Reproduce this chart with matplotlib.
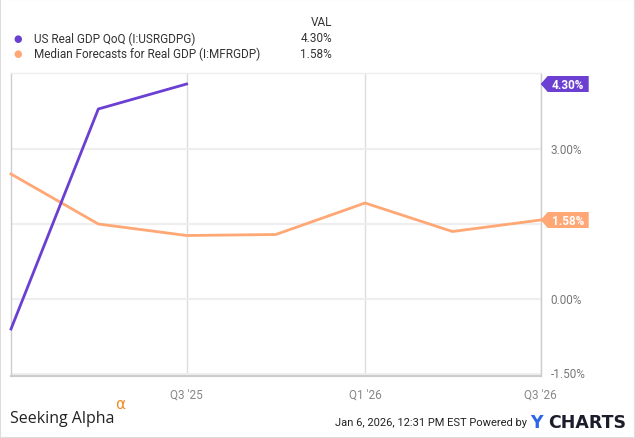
import matplotlib.pyplot as plt
import matplotlib.dates as mdates
import matplotlib.transforms as mtransforms
from matplotlib.patches import Polygon, Rectangle
import numpy as np
import pandas as pd

plt.rcParams['font.family'] = ['Roboto', 'DejaVu Sans']

# data (quarterly, %)
gdp_dates = pd.to_datetime(["2025-01-01", "2025-04-01", "2025-07-01"])
gdp_vals = [-0.6, 3.8, 4.3]
fc_dates = pd.to_datetime(["2025-01-01", "2025-04-01", "2025-07-01", "2025-10-01",
                           "2026-01-01", "2026-04-01", "2026-07-01"])
fc_vals = [2.5, 1.5, 1.27, 1.29, 1.92, 1.35, 1.58]

series_names = ["US Real GDP QoQ (I:USRGDPG)", "Median Forecasts for Real GDP (I:MFRGDP)"]
last_vals = [4.30, 1.58]
colors = ["#6a3fd2", "#ffa775"]

y_ticks = [-1.5, 0.0, 1.5, 3.0]
y_labels = ["-1.50%", "0.00%", "", "3.00%"]
x_ticks = pd.to_datetime(["2025-07-01", "2026-01-01", "2026-07-01"])
x_labels = ["Q3 '25", "Q1 '26", "Q3 '26"]

W, H = 635, 439
fig = plt.figure(figsize=(W / 100, H / 100), dpi=100)
ax = fig.add_axes([11 / W, 1 - 377 / H, (540.7 - 11) / W, (377 - 74) / H])

ax.plot(fc_dates, fc_vals, color=colors[1], lw=2, zorder=3, clip_on=False)
ax.plot(gdp_dates, gdp_vals, color=colors[0], lw=2, zorder=4, clip_on=False)

ax.set_xlim(pd.Timestamp("2025-01-01"), pd.Timestamp("2026-07-01"))
ax.set_ylim(-1.54, 4.52)

ax.set_yticks(y_ticks)
ax.set_yticklabels(y_labels)
ax.yaxis.tick_right()
ax.set_xticks(x_ticks)
ax.set_xticklabels(x_labels)
ax.tick_params(axis='y', length=0, pad=7, labelsize=8.5, labelcolor="#777777")
ax.tick_params(axis='x', length=0, pad=8, labelsize=8.5, labelcolor="#888888")
for lbl in ax.get_yticklabels():
    lbl.set_va("center")

ax.grid(axis='y', color="#eeeeee", lw=1.5)
ax.grid(axis='x', color="#dddddd", lw=1)
ax.set_axisbelow(True)
for side in ["left", "right"]:
    ax.spines[side].set_color("#cccccc")
    ax.spines[side].set_linewidth(1)
ax.spines["bottom"].set_color("#cccccc")
ax.spines["bottom"].set_linewidth(1.5)
ax.spines["top"].set_color("#eeeeee")
ax.spines["top"].set_linewidth(1)

# value tags on the right edge
fig.canvas.draw()
tr = mtransforms.blended_transform_factory(ax.transAxes, ax.transData)
for v, c in zip(last_vals, colors):
    x0, y0 = tr.transform((1, v))
    shape = np.array([[0, 0], [7, 8], [48, 8], [48, -8], [7, -8]])
    poly = Polygon(shape + [x0, y0], closed=True, transform=None,
                   facecolor=c, edgecolor="none", zorder=10, clip_on=False)
    fig.patches.append(poly)
    fig.text((x0 + 27.5) / W, y0 / H, f"{v:.2f}%", color="white", fontsize=8.5,
             fontweight="bold", ha="center", va="center", zorder=11)

# legend
for i, (name, v, c) in enumerate(zip(series_names, last_vals, colors)):
    ypix = 39 + 15 * i
    fig.text(18 / W, 1 - ypix / H, "●", color=c, fontsize=7, ha="center", va="center",
             family=["DejaVu Sans"])
    fig.text(34 / W, 1 - ypix / H, name, color="#333333", fontsize=8.5, va="center")
    fig.text(332 / W, 1 - ypix / H, f"{v:.2f}%", color="#333333", fontsize=8.5,
             ha="right", va="center")
fig.text(332 / W, 1 - 22 / H, "VAL", color="#333333", fontsize=8.5, ha="right", va="center")

# footer
fig.text(10 / W, 1 - 419 / H, "Seeking Alpha", color="#222222", fontsize=11.5,
         va="center", family=["Open Sans", "DejaVu Sans"])
fig.text(115 / W, 1 - 405 / H, "α", color="#f08a24", fontsize=11, va="center",
         family=["DejaVu Sans"])
fig.text(527 / W, 1 - 423 / H, "Jan 6, 2026, 12:31 PM EST Powered by", color="#222222",
         fontsize=8, ha="right", va="center")
fig.text(530 / W, 1 - 423 / H, "Y", color="#2a66e6", fontsize=12.5, fontweight="bold",
         va="center", family=["DejaVu Sans"])
fig.text(548 / W, 1 - 423 / H, "CHARTS", color="#1b1d2a", fontsize=12.5, fontweight="bold",
         va="center", family=["DejaVu Sans"])

# outer border
fig.patches.append(Rectangle((0, 0), 1, 1, transform=fig.transFigure, fill=False,
                             edgecolor="#dddddd", lw=1.5))

fig.savefig("out.png", dpi=100)
